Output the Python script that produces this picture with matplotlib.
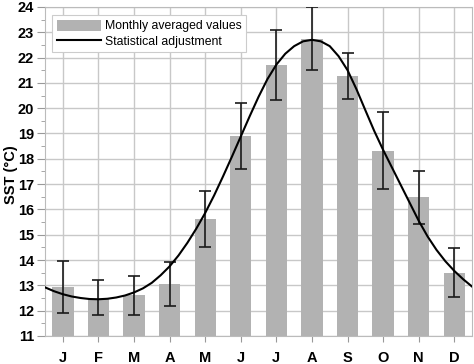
import numpy as np
import matplotlib
matplotlib.use('Agg')
import matplotlib.pyplot as plt
from matplotlib.ticker import MultipleLocator

plt.rcParams['font.family'] = ['Liberation Sans', 'DejaVu Sans']

months = ['J', 'F', 'M', 'A', 'M', 'J', 'J', 'A', 'S', 'O', 'N', 'D']
sst_mean = [12.95, 12.46, 12.60, 13.05, 15.62, 18.90, 21.71, 22.74, 21.26, 18.32, 16.48, 13.50]
err_high = [13.96, 13.20, 13.37, 13.92, 16.72, 20.20, 23.10, 23.99, 22.17, 19.84, 17.52, 14.48]
err_low = [11.92, 11.82, 11.82, 12.20, 14.53, 17.60, 20.34, 21.49, 20.38, 16.81, 15.44, 12.53]

# fitted curve, every quarter month (month index units)
fit_x = [-0.5, -0.25, 0.0, 0.25, 0.5, 0.75, 1.0, 1.25, 1.5, 1.75, 2.0, 2.25, 2.5, 2.75,
         3.0, 3.25, 3.5, 3.75, 4.0, 4.25, 4.5, 4.75, 5.0, 5.25, 5.5, 5.75, 6.0, 6.25,
         6.5, 6.75, 7.0, 7.25, 7.5, 7.75, 8.0, 8.25, 8.5, 8.75, 9.0, 9.25, 9.5, 9.75,
         10.0, 10.25, 10.5, 10.75, 11.0, 11.25, 11.5]
fit_y = [12.92, 12.77, 12.65, 12.56, 12.50, 12.46, 12.45, 12.47, 12.52, 12.60, 12.72, 12.88, 13.10, 13.40,
         13.75, 14.18, 14.68, 15.24, 15.86, 16.55, 17.30, 18.08, 18.88, 19.68, 20.45, 21.15, 21.72, 22.15,
         22.45, 22.64, 22.70, 22.64, 22.45, 22.05, 21.50, 20.75, 19.92, 19.10, 18.35, 17.65, 16.95, 16.25,
         15.55, 14.93, 14.40, 13.95, 13.57, 13.24, 12.95]

x = np.arange(len(months))
mean = np.array(sst_mean)
yerr = [mean - np.array(err_low), np.array(err_high) - mean]

fig = plt.figure(figsize=(4.74, 3.64), dpi=100)
ax = fig.add_axes([0.095, 0.077, 0.901, 0.904])

ax.set_axisbelow(True)
ax.grid(True, color='#c8c8c8', lw=1.0)

bars = ax.bar(x, mean, width=0.6, color='#b2b2b2', zorder=2)
ax.errorbar(x, mean, yerr=yerr, fmt='none', ecolor='#1a1a1a', elinewidth=1.2,
            capsize=4.5, capthick=1.2, zorder=3)
line, = ax.plot(fit_x, fit_y, color='black', lw=1.5, zorder=4)

ax.set_xlim(-0.5, 11.5)
ax.set_ylim(11, 24)
ax.set_xticks(x)
ax.set_xticklabels(months, fontweight='bold', fontsize=10.5)
ax.yaxis.set_major_locator(MultipleLocator(1))
ax.yaxis.set_minor_locator(MultipleLocator(0.5))
for lab in ax.get_yticklabels():
    lab.set_fontweight('bold')
    lab.set_fontsize(10.5)

ax.tick_params(axis='y', which='major', length=6, color='#999999', pad=2)
ax.tick_params(axis='y', which='minor', length=3, color='#999999')
ax.tick_params(axis='x', which='major', length=4, color='#999999', pad=7)
for s in ax.spines.values():
    s.set_color('#bbbbbb')

ax.set_ylabel('SST (°C)', fontweight='bold', fontsize=10.5)
ax.yaxis.set_label_coords(-0.064, 0.49)

leg = ax.legend([bars, line], ['Monthly averaged values', 'Statistical adjustment'],
                loc='upper left', bbox_to_anchor=(0.014, 0.978), fontsize=8.8,
                fancybox=False, edgecolor='#cccccc', framealpha=1,
                handlelength=3.6, handleheight=1.0, handletextpad=0.4,
                borderpad=0.35, labelspacing=0.25, borderaxespad=0.1)
leg.get_frame().set_linewidth(0.8)

fig.savefig('out.png', dpi=100)
